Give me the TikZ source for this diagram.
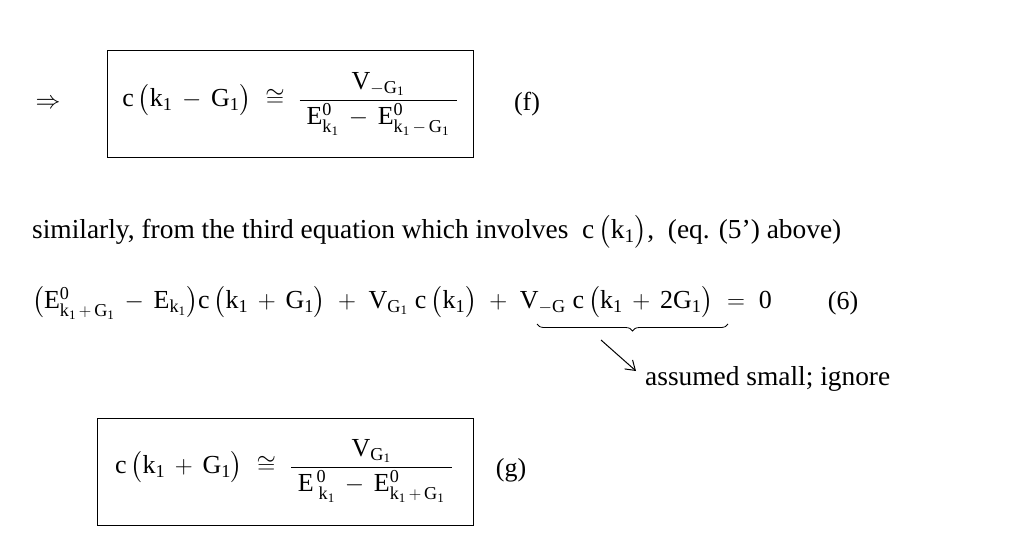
\documentclass[tikz,border=0pt]{standalone}
\usepackage{amsmath,amssymb}
\usepackage{fontspec}
\setmainfont{Liberation Serif}
\usetikzlibrary{decorations.pathreplacing,arrows.meta}
\newcommand\Ko{\mathrm{k}_{\mathrm{1}}}
\newcommand\Go{\mathrm{G}_{\mathrm{1}}}
\newcommand\zr{\mathrm{0}}
\newcommand\rc{\mathrm{c}\,}
\begin{document}
\begin{tikzpicture}[x=1pt,y=-1pt,
  eq/.style={inner sep=0pt,font=\fontsize{26}{30}\selectfont},
  txt/.style={inner sep=0pt,font=\fontsize{27.4}{30}\selectfont,anchor=west},
  frame/.style={draw,line width=1pt}]
\useasboundingbox (0,0) rectangle (1024,542);
\node[frame,minimum width=366pt,minimum height=107pt] (b1) at (290,103.5) {};
\node[frame,minimum width=376pt,minimum height=107pt] (b2) at (285,471.5) {};
\node[eq] (imp) at (48,104) {$\Rightarrow$};
\node[eq] (ef) at (290,104) {$\rc\bigl(\Ko\,-\,\Go\bigr)\;\cong\;\dfrac{\mathrm{V}_{-\Go}}{\;\mathrm{E}^\zr_{\Ko}\,-\,\mathrm{E}^\zr_{\Ko\,-\,\Go}\;}$};
\node[eq] (lf) at (527,104) {(f)};
\node[txt] (sim) at (32,232) {similarly, from the third equation which involves \ $\rc\bigl(\Ko\bigr)$, \ (eq. (5’) above)};
\node[eq,anchor=west] (e6) at (32,303) {$\bigl(\mathrm{E}^\zr_{\Ko\,+\,\Go}\,-\,\mathrm{E}_{\Ko}\bigr)\rc\bigl(\Ko\,+\,\Go\bigr)\;+\;\mathrm{V}_{\Go}\;\rc\bigl(\Ko\bigr)\;+\;\mathrm{V}_{-\mathrm{G}}\;\rc\bigl(\Ko\,+\,\mathrm{2}\Go\bigr)\;=\;\zr$};
\node[eq] (l6) at (843,303) {(6)};
\coordinate (bl) at (537,324);
\coordinate (br) at (728,324);
\draw[decorate,decoration={brace,mirror,amplitude=7pt},line width=0.8pt] (bl) -- (br);
\coordinate (as) at (601,340);
\node[txt] (ig) at (645,379) {assumed small; ignore};
\draw[-{Straight Barb[length=9pt,width=12pt]},line width=1pt] (as) -- (636,371);
\node[eq] (eg) at (284,471) {$\rc\bigl(\Ko\,+\,\Go\bigr)\;\cong\;\dfrac{\mathrm{V}_{\Go}}{\;\mathrm{E}^{\,\zr}_{\;\Ko}\,-\,\mathrm{E}^\zr_{\Ko\,+\,\Go}\;}$};
\node[eq] (lg) at (511,470) {(g)};
\end{tikzpicture}
\end{document}
